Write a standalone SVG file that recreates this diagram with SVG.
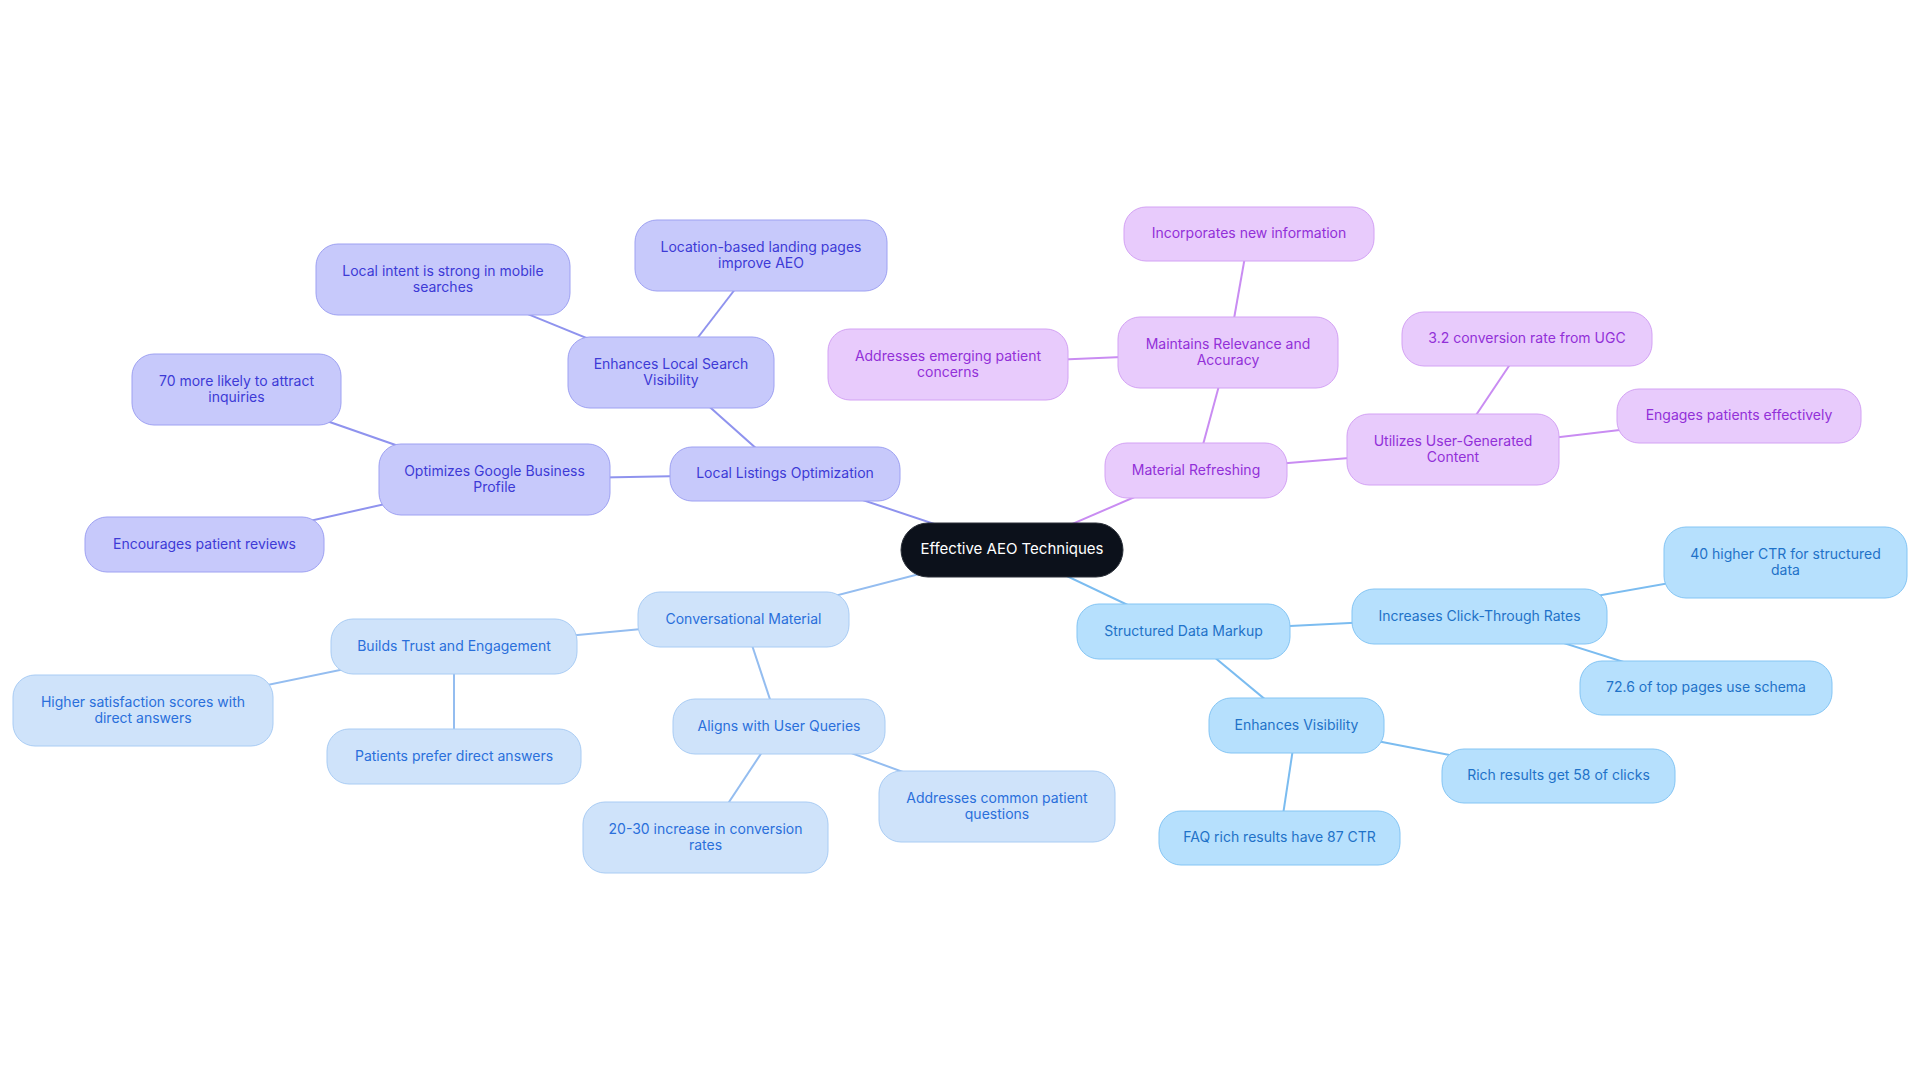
<svg xmlns="http://www.w3.org/2000/svg" width="1920" height="1083" viewBox="0 0 1920 1083">
<style>
text{font-family:Inter,"Open Sans","Liberation Sans",sans-serif;font-size:14px;text-anchor:middle}
.e{stroke-width:2;fill:none}
.ei{stroke:#8f93ee}.ep{stroke:#c98cf2}.el{stroke:#94bdf0}.es{stroke:#7bbcf0}
.ni rect{fill:#c7c9fb;stroke:#9ea1f2;stroke-width:1}.ni text{fill:#3d3ad6}
.np rect{fill:#e8cbfc;stroke:#d3a2f4;stroke-width:1}.np text{fill:#9230d8}
.nl rect{fill:#cfe3fa;stroke:#a9ccf4;stroke-width:1}.nl text{fill:#2a6fdb}
.ns rect{fill:#b6e0fd;stroke:#84c5f4;stroke-width:1}.ns text{fill:#1f72c8}
.root rect{fill:#0c111b;stroke:#2a2f38;stroke-width:1}.root text{fill:#ffffff;font-size:15px}
</style>
<rect width="1920" height="1083" fill="#ffffff"/>
<g id="connectors">
<line class="e ei" x1="1012" y1="550" x2="785" y2="474"/>
<line class="e ei" x1="785" y1="474" x2="671" y2="372.5"/>
<line class="e ei" x1="671" y1="372.5" x2="443" y2="279.5"/>
<line class="e ei" x1="671" y1="372.5" x2="761" y2="255.5"/>
<line class="e ei" x1="785" y1="474" x2="494.5" y2="479.5"/>
<line class="e ei" x1="494.5" y1="479.5" x2="236.5" y2="389.5"/>
<line class="e ei" x1="494.5" y1="479.5" x2="204.5" y2="544.5"/>
<line class="e ep" x1="1012" y1="550" x2="1196" y2="470.5"/>
<line class="e ep" x1="1196" y1="470.5" x2="1228" y2="352.5"/>
<line class="e ep" x1="1228" y1="352.5" x2="1249" y2="234"/>
<line class="e ep" x1="1228" y1="352.5" x2="948" y2="364.5"/>
<line class="e ep" x1="1196" y1="470.5" x2="1453" y2="449.5"/>
<line class="e ep" x1="1453" y1="449.5" x2="1527" y2="339"/>
<line class="e ep" x1="1453" y1="449.5" x2="1739" y2="416"/>
<line class="e el" x1="1012" y1="550" x2="743.5" y2="619.5"/>
<line class="e el" x1="743.5" y1="619.5" x2="454" y2="646.5"/>
<line class="e el" x1="454" y1="646.5" x2="143" y2="710.5"/>
<line class="e el" x1="454" y1="646.5" x2="454" y2="756.5"/>
<line class="e el" x1="743.5" y1="619.5" x2="779" y2="726.5"/>
<line class="e el" x1="779" y1="726.5" x2="705.5" y2="837.5"/>
<line class="e el" x1="779" y1="726.5" x2="997" y2="806.5"/>
<line class="e es" x1="1012" y1="550" x2="1183.5" y2="631.5"/>
<line class="e es" x1="1183.5" y1="631.5" x2="1479.5" y2="616.5"/>
<line class="e es" x1="1479.5" y1="616.5" x2="1785.5" y2="562.5"/>
<line class="e es" x1="1479.5" y1="616.5" x2="1706" y2="688"/>
<line class="e es" x1="1183.5" y1="631.5" x2="1296.5" y2="725.5"/>
<line class="e es" x1="1296.5" y1="725.5" x2="1558.5" y2="776"/>
<line class="e es" x1="1296.5" y1="725.5" x2="1279.5" y2="838"/>
</g>
<g id="root" class="root"><rect x="901" y="523" width="222" height="54" rx="27"/><text x="1012" y="554">Effective AEO Techniques</text></g>

<g id="n-llo" class="ni"><rect x="670" y="447" width="230" height="54" rx="22"/><text x="785" y="478">Local Listings Optimization</text></g>
<g id="n-elsv" class="ni"><rect x="568" y="337" width="206" height="71" rx="22"/><text x="671" y="368.5">Enhances Local Search</text><text x="671" y="384.5">Visibility</text></g>
<g id="n-intent" class="ni"><rect x="316" y="244" width="254" height="71" rx="22"/><text x="443" y="275.5">Local intent is strong in mobile</text><text x="443" y="291.5">searches</text></g>
<g id="n-landing" class="ni"><rect x="635" y="220" width="252" height="71" rx="22"/><text x="761" y="251.5">Location-based landing pages</text><text x="761" y="267.5">improve AEO</text></g>
<g id="n-gbp" class="ni"><rect x="379" y="444" width="231" height="71" rx="22"/><text x="494.5" y="475.5">Optimizes Google Business</text><text x="494.5" y="491.5">Profile</text></g>
<g id="n-70" class="ni"><rect x="132" y="354" width="209" height="71" rx="22"/><text x="236.5" y="385.5">70 more likely to attract</text><text x="236.5" y="401.5">inquiries</text></g>
<g id="n-reviews" class="ni"><rect x="85" y="517" width="239" height="55" rx="22"/><text x="204.5" y="548.5">Encourages patient reviews</text></g>

<g id="n-mr" class="np"><rect x="1105" y="443" width="182" height="55" rx="22"/><text x="1196" y="474.5">Material Refreshing</text></g>
<g id="n-mra" class="np"><rect x="1118" y="317" width="220" height="71" rx="22"/><text x="1228" y="348.5">Maintains Relevance and</text><text x="1228" y="364.5">Accuracy</text></g>
<g id="n-inc" class="np"><rect x="1124" y="207" width="250" height="54" rx="22"/><text x="1249" y="238">Incorporates new information</text></g>
<g id="n-emerg" class="np"><rect x="828" y="329" width="240" height="71" rx="22"/><text x="948" y="360.5">Addresses emerging patient</text><text x="948" y="376.5">concerns</text></g>
<g id="n-ugc" class="np"><rect x="1347" y="414" width="212" height="71" rx="22"/><text x="1453" y="445.5">Utilizes User-Generated</text><text x="1453" y="461.5">Content</text></g>
<g id="n-32" class="np"><rect x="1402" y="312" width="250" height="54" rx="22"/><text x="1527" y="343">3.2 conversion rate from UGC</text></g>
<g id="n-engage" class="np"><rect x="1617" y="389" width="244" height="54" rx="22"/><text x="1739" y="420">Engages patients effectively</text></g>

<g id="n-conv" class="nl"><rect x="638" y="592" width="211" height="55" rx="22"/><text x="743.5" y="623.5">Conversational Material</text></g>
<g id="n-trust" class="nl"><rect x="331" y="619" width="246" height="55" rx="22"/><text x="454" y="650.5">Builds Trust and Engagement</text></g>
<g id="n-sat" class="nl"><rect x="13" y="675" width="260" height="71" rx="22"/><text x="143" y="706.5">Higher satisfaction scores with</text><text x="143" y="722.5">direct answers</text></g>
<g id="n-prefer" class="nl"><rect x="327" y="729" width="254" height="55" rx="22"/><text x="454" y="760.5">Patients prefer direct answers</text></g>
<g id="n-align" class="nl"><rect x="673" y="699" width="212" height="55" rx="22"/><text x="779" y="730.5">Aligns with User Queries</text></g>
<g id="n-2030" class="nl"><rect x="583" y="802" width="245" height="71" rx="22"/><text x="705.5" y="833.5">20-30 increase in conversion</text><text x="705.5" y="849.5">rates</text></g>
<g id="n-common" class="nl"><rect x="879" y="771" width="236" height="71" rx="22"/><text x="997" y="802.5">Addresses common patient</text><text x="997" y="818.5">questions</text></g>

<g id="n-sdm" class="ns"><rect x="1077" y="604" width="213" height="55" rx="22"/><text x="1183.5" y="635.5">Structured Data Markup</text></g>
<g id="n-ctr" class="ns"><rect x="1352" y="589" width="255" height="55" rx="22"/><text x="1479.5" y="620.5">Increases Click-Through Rates</text></g>
<g id="n-40" class="ns"><rect x="1664" y="527" width="243" height="71" rx="22"/><text x="1785.5" y="558.5">40 higher CTR for structured</text><text x="1785.5" y="574.5">data</text></g>
<g id="n-726" class="ns"><rect x="1580" y="661" width="252" height="54" rx="22"/><text x="1706" y="692">72.6 of top pages use schema</text></g>
<g id="n-ev" class="ns"><rect x="1209" y="698" width="175" height="55" rx="22"/><text x="1296.5" y="729.5">Enhances Visibility</text></g>
<g id="n-rich" class="ns"><rect x="1442" y="749" width="233" height="54" rx="22"/><text x="1558.5" y="780">Rich results get 58 of clicks</text></g>
<g id="n-faq" class="ns"><rect x="1159" y="811" width="241" height="54" rx="22"/><text x="1279.5" y="842">FAQ rich results have 87 CTR</text></g>
</svg>
